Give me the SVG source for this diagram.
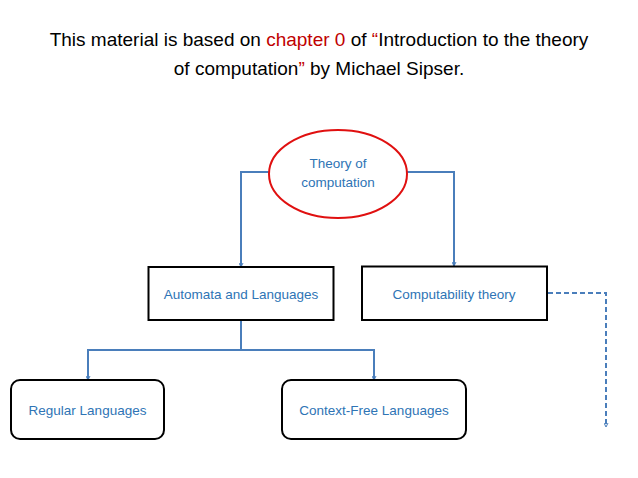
<svg xmlns="http://www.w3.org/2000/svg" width="638" height="478" viewBox="0 0 638 478">
<defs>
<style>
.t{font-family:"Liberation Sans",Arial,sans-serif;font-size:13.5px;fill:#2E74B5;text-anchor:middle}
.h{font-family:"Liberation Sans",Arial,sans-serif;font-size:19px;fill:#000;text-anchor:middle}
.r{fill:#C00000}
.box{fill:#fff;stroke:#000;stroke-width:2}
.c{fill:none;stroke:#4A7EBB;stroke-width:2}
</style>
<marker id="a" viewBox="0 0 10 10" refX="9" refY="5" markerWidth="5" markerHeight="5" orient="auto" markerUnits="userSpaceOnUse">
<path d="M1,1 L9,5 L1,9" fill="none" stroke="#4A7EBB" stroke-width="2"/>
</marker>
</defs>
<rect width="638" height="478" fill="#fff"/>
<text class="h" x="319" y="46">This material is based on <tspan class="r">chapter 0</tspan> of <tspan class="r">“</tspan>Introduction to the theory</text>
<text class="h" x="319" y="75">of computation<tspan class="r">”</tspan> by Michael Sipser.</text>
<g id="connectors">
<polyline class="c" points="270,172 241,172 241,267" marker-end="url(#a)"/>
<polyline class="c" points="407,172 454,172 454,266" marker-end="url(#a)"/>
<polyline class="c" points="241,320 241,350 88,350 88,380" marker-end="url(#a)"/>
<polyline class="c" points="241,350 374,350 374,380" marker-end="url(#a)"/>
<polyline class="c" points="548,293 606,293 606,427" stroke-dasharray="5,3" marker-end="url(#a)"/>
</g>
<g id="theory">
<ellipse cx="338" cy="174" rx="69" ry="44" fill="#fff" stroke="#E01010" stroke-width="2"/>
<text class="t" x="338" y="168">Theory of</text>
<text class="t" x="338" y="187">computation</text>
</g>
<g id="automata">
<rect class="box" x="148.5" y="267" width="185" height="53"/>
<text class="t" x="241" y="299">Automata and Languages</text>
</g>
<g id="computability">
<rect class="box" x="362" y="266.5" width="185" height="53.5"/>
<text class="t" x="454" y="299">Computability theory</text>
</g>
<g id="regular">
<rect class="box" x="11" y="380" width="153" height="59" rx="9"/>
<text class="t" x="87.5" y="415">Regular Languages</text>
</g>
<g id="cfl">
<rect class="box" x="282" y="380" width="184" height="59" rx="9"/>
<text class="t" x="374" y="415">Context-Free Languages</text>
</g>
</svg>
